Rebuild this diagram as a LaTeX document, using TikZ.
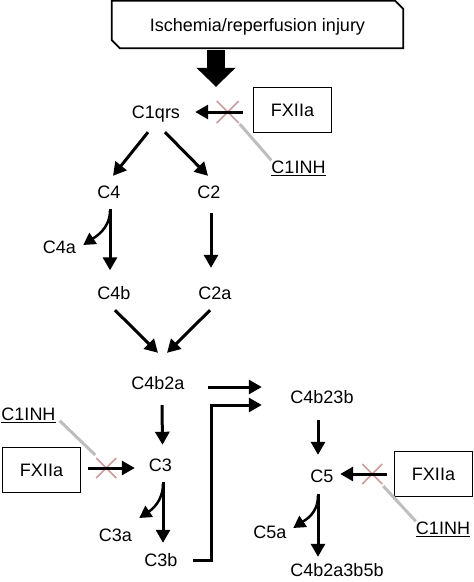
\documentclass[tikz,border=0pt]{standalone}
\usepackage{fontspec}
\setmainfont{Liberation Sans}
\usetikzlibrary{arrows.meta,calc}
\definecolor{crossc}{RGB}{205,155,155}
\definecolor{inhc}{RGB}{190,190,190}
\begin{document}
\begin{tikzpicture}[x=1pt,y=-1pt,
 lbl/.style={inner sep=0pt,text height=13pt,text depth=0pt,font=\fontsize{18}{21}\selectfont},
 fbox/.style={lbl,draw,line width=1.5pt,minimum width=78pt,minimum height=45pt},
 arr/.style={line width=3pt,-{Triangle[length=13pt,width=14pt]}},
 brarr/.style={line width=2.5pt,-{Triangle[length=12pt,width=13pt]}},
 inh/.style={line width=3pt,draw=inhc},
 xmark/.style={line width=1.5pt,draw=crossc},
 bigarr/.style={line width=18pt,-{Triangle[length=19pt,width=38pt]}},
]
\useasboundingbox (0,0) rectangle (474,582);
% nodes
\node[lbl,minimum width=291pt,minimum height=47pt] (ir) at (257.5,24.5) {Ischemia/reperfusion injury};
\draw[line width=1.8pt] (ir.north west) -- ($(ir.north east)+(-8,0)$) -- ($(ir.north east)+(0,8)$) -- (ir.south east) -- ($(ir.south west)+(8,0)$) -- ($(ir.south west)+(0,-8)$) -- cycle;
\node[lbl] (c1qrs) at (156,112) {C1qrs};
\node[fbox] (fx1) at (292.5,110) {FXIIa};
\node[lbl] (inh1) at (298.5,167) {\underline{C1INH}};
\node[lbl] (c4) at (109,192) {C4};
\node[lbl] (c2) at (209,192) {C2};
\node[lbl] (c4a) at (59.5,247) {C4a};
\node[lbl] (c4b) at (114,293) {C4b};
\node[lbl] (c2a) at (215,293) {C2a};
\node[lbl] (c4b2a) at (158,383) {C4b2a};
\node[lbl] (c4b23b) at (322,397) {C4b23b};
\node[lbl] (inh2) at (28.5,414) {\underline{C1INH}};
\node[fbox] (fx2) at (41.5,470) {FXIIa};
\node[lbl] (c3) at (160.5,465) {C3};
\node[lbl] (c3a) at (115.5,535) {C3a};
\node[lbl] (c3b) at (161,560) {C3b};
\node[lbl] (c5) at (322,476) {C5};
\node[fbox] (fx3) at (433.5,474) {FXIIa};
\node[lbl] (c5a) at (270,532) {C5a};
\node[lbl] (inh3) at (443,528) {\underline{C1INH}};
\node[lbl] (final) at (337,570) {C4b2a3b5b};
% big arrow
\draw[bigarr] ($(ir.south)+(-41.5,2)$) -- ($(c1qrs.north)+(60,-18.5)$);
% FXIIa -> C1qrs with inhibition
\coordinate (x1) at ($(fx1.west |- c1qrs)+(-25,0)$);
\draw[xmark] ($(x1)+(-11,-11)$) -- ($(x1)+(11,11)$) ($(x1)+(-11,11)$) -- ($(x1)+(11,-11)$);
\draw[inh] ($(x1)+(12,12)$) -- (inh1.north west);
\draw[arr] ($(fx1.west |- c1qrs)+(-10,0)$) -- ($(c1qrs.east)+(15,0)$);
% classical pathway
\draw[arr] ($(c1qrs.south)+(-8,13.5)$) -- ($(c4.north)+(4,-9.5)$);
\draw[arr] ($(c1qrs.south)+(9,13.5)$) -- ($(c2.north)+(-1,-9.5)$);
\draw[arr] ($(c4.south)+(1,10)$) -- ($(c4b.north)+(-4,-16)$);
\draw[brarr] ($(c4.south)+(1,12)$) .. controls +(0,18) and +(12,-8) .. ($(c4a.east)+(7,-2)$);
\draw[arr] ($(c2.south)+(2,14.5)$) -- ($(c2a.north)+(-4,-18.5)$);
\draw[arr] ($(c4b.south)+(1,10.5)$) -- ($(c4b2a.north)+(0,-23.5)$);
\draw[arr] ($(c2a.south)+(-5,10.5)$) -- ($(c4b2a.north)+(9,-23.5)$);
\draw[arr] ($(c4b2a.east)+(23.5,4)$) -- ($(c4b23b.west |- c4b2a.east)+(-28.5,4)$);
\draw[arr] ($(c3b.east)+(15.5,0)$) -- ++(18,0) |- ($(c4b23b.west)+(-28.5,8)$);
\draw[arr] ($(c4b2a.south)+(4,15.5)$) -- ($(c3.north)+(2,-13.5)$);
% FXIIa -> C3
\coordinate (x2) at ($(fx2.east |- c3.west)+(25,3)$);
\draw[xmark] ($(x2)+(-10,-10)$) -- ($(x2)+(10,10)$) ($(x2)+(-10,10)$) -- ($(x2)+(10,-10)$);
\draw[inh] ($(inh2.south east)+(4,0)$) -- ($(x2)+(-11,-13)$);
\draw[arr] ($(fx2.east |- c3.west)+(7,3)$) -- ($(c3.west)+(-14,3)$);
\draw[arr] ($(c3.south)+(2.5,10.5)$) -- ($(c3b.north)+(2,-10.5)$);
\draw[brarr] ($(c3.south)+(2.5,12)$) .. controls +(0,18) and +(12,-8) .. ($(c3a.east)+(7,-17)$);
% C5
\draw[arr] ($(c4b23b.south)+(-4,16.5)$) -- ($(c5.north)+(-4,-14.5)$);
\coordinate (x3) at ($(fx3.west |- c5.east)+(-21.5,-2)$);
\draw[xmark] ($(x3)+(-10,-10)$) -- ($(x3)+(10,10)$) ($(x3)+(-10,10)$) -- ($(x3)+(10,-10)$);
\draw[inh] ($(x3)+(11,12)$) -- (inh3.north west);
\draw[arr] ($(fx3.west |- c5.east)+(-6.5,-2)$) -- ($(c5.east)+(6.5,-2)$);
\draw[arr] ($(c5.south)+(-4,11.5)$) -- ($(final.north)+(-19,-6.5)$);
\draw[brarr] ($(c5.south)+(-4,13)$) .. controls +(0,18) and +(12,-8) .. ($(c5a.east)+(6.5,-4)$);
\end{tikzpicture}
\end{document}
